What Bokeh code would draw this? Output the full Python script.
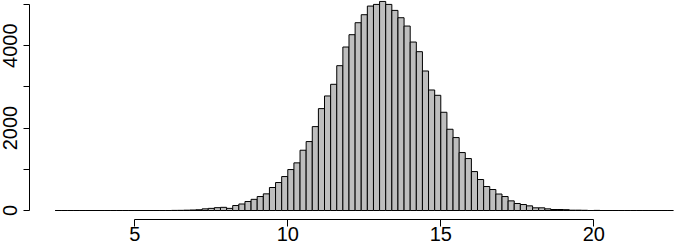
from bokeh.plotting import figure
from bokeh.models import Range1d, LinearAxis, FixedTicker, ColumnDataSource
from bokeh.embed import file_html
from bokeh.resources import INLINE

# Histogram data (bins of width 0.2 starting at 2.4)
bin_start = 2.4
bin_width = 0.2
counts = (
    [0] * 19
    + [3, 4, 8, 12, 18]
    + [40, 52, 69, 77, 52]
    + [121, 158, 218, 271, 339]
    + [404, 558, 679, 824, 994]
    + [1156, 1463, 1673, 2036, 2473]
    + [2780, 3063, 3515, 3968, 4267]
    + [4558, 4752, 4962, 5002, 5075]
    + [5002, 4857, 4679, 4477, 4089]
    + [3855, 3386, 2925, 2796, 2384]
    + [1972, 1770, 1406, 1261, 945]
    + [752, 582, 509, 400, 339]
    + [234, 170, 145, 113, 65]
    + [65, 40, 24, 24, 20]
    + [8, 8, 5, 0, 3]
    + [0] * 12
)
x_ticks = [5, 10, 15, 20]
y_ticks = [0, 1000, 2000, 3000, 4000, 5000]
y_tick_labels = {0: "0", 1000: "", 2000: "2000", 3000: "", 4000: "4000", 5000: ""}

lefts = [round(bin_start + i * bin_width, 4) for i in range(len(counts))]
rights = [round(l + bin_width, 4) for l in lefts]
src = ColumnDataSource(dict(left=lefts, right=rights, top=counts, bottom=[0] * len(counts)))

FONT = "Liberation Sans"

p = figure(
    width=696, height=259,
    x_range=Range1d(1.559, 22.997), y_range=Range1d(-218.4, 5097.1),
    x_axis_type=None, y_axis_type=None,
    min_border_left=40, min_border_right=0, min_border_top=10, min_border_bottom=30,
    toolbar_location=None, output_backend="svg",
    outline_line_color=None, background_fill_color="white", border_fill_color="white",
    styles={"margin-left": "-11px", "margin-top": "-10px", "margin-bottom": "-8px"},
)
p.xgrid.visible = False
p.ygrid.visible = False

p.quad(left="left", right="right", top="top", bottom="bottom", source=src,
       fill_color="#BEBEBE", line_color="black", line_width=1)

yaxis = LinearAxis(ticker=FixedTicker(ticks=y_ticks), bounds=(0, 5000))
yaxis.major_label_overrides = {k: v for k, v in y_tick_labels.items()}
yaxis.major_label_orientation = "vertical"
yaxis.major_tick_out = 6
yaxis.major_tick_in = 0
yaxis.minor_tick_out = 0
yaxis.minor_tick_in = 0
yaxis.major_label_standoff = 6
yaxis.major_label_text_font = FONT
yaxis.major_label_text_font_size = "20px"
yaxis.major_label_text_color = "black"
yaxis.axis_line_color = "black"
yaxis.major_tick_line_color = "black"
p.add_layout(yaxis, "left")

xaxis = LinearAxis(ticker=FixedTicker(ticks=x_ticks), bounds=(5, 20))
xaxis.major_tick_out = 7
xaxis.major_tick_in = 0
xaxis.minor_tick_out = 0
xaxis.minor_tick_in = 0
xaxis.major_label_standoff = 0
xaxis.major_label_text_font = FONT
xaxis.major_label_text_font_size = "20px"
xaxis.major_label_text_color = "black"
xaxis.axis_line_color = "black"
xaxis.major_tick_line_color = "black"
p.add_layout(xaxis, "below")

open("out.html", "w").write(file_html(p, INLINE))
